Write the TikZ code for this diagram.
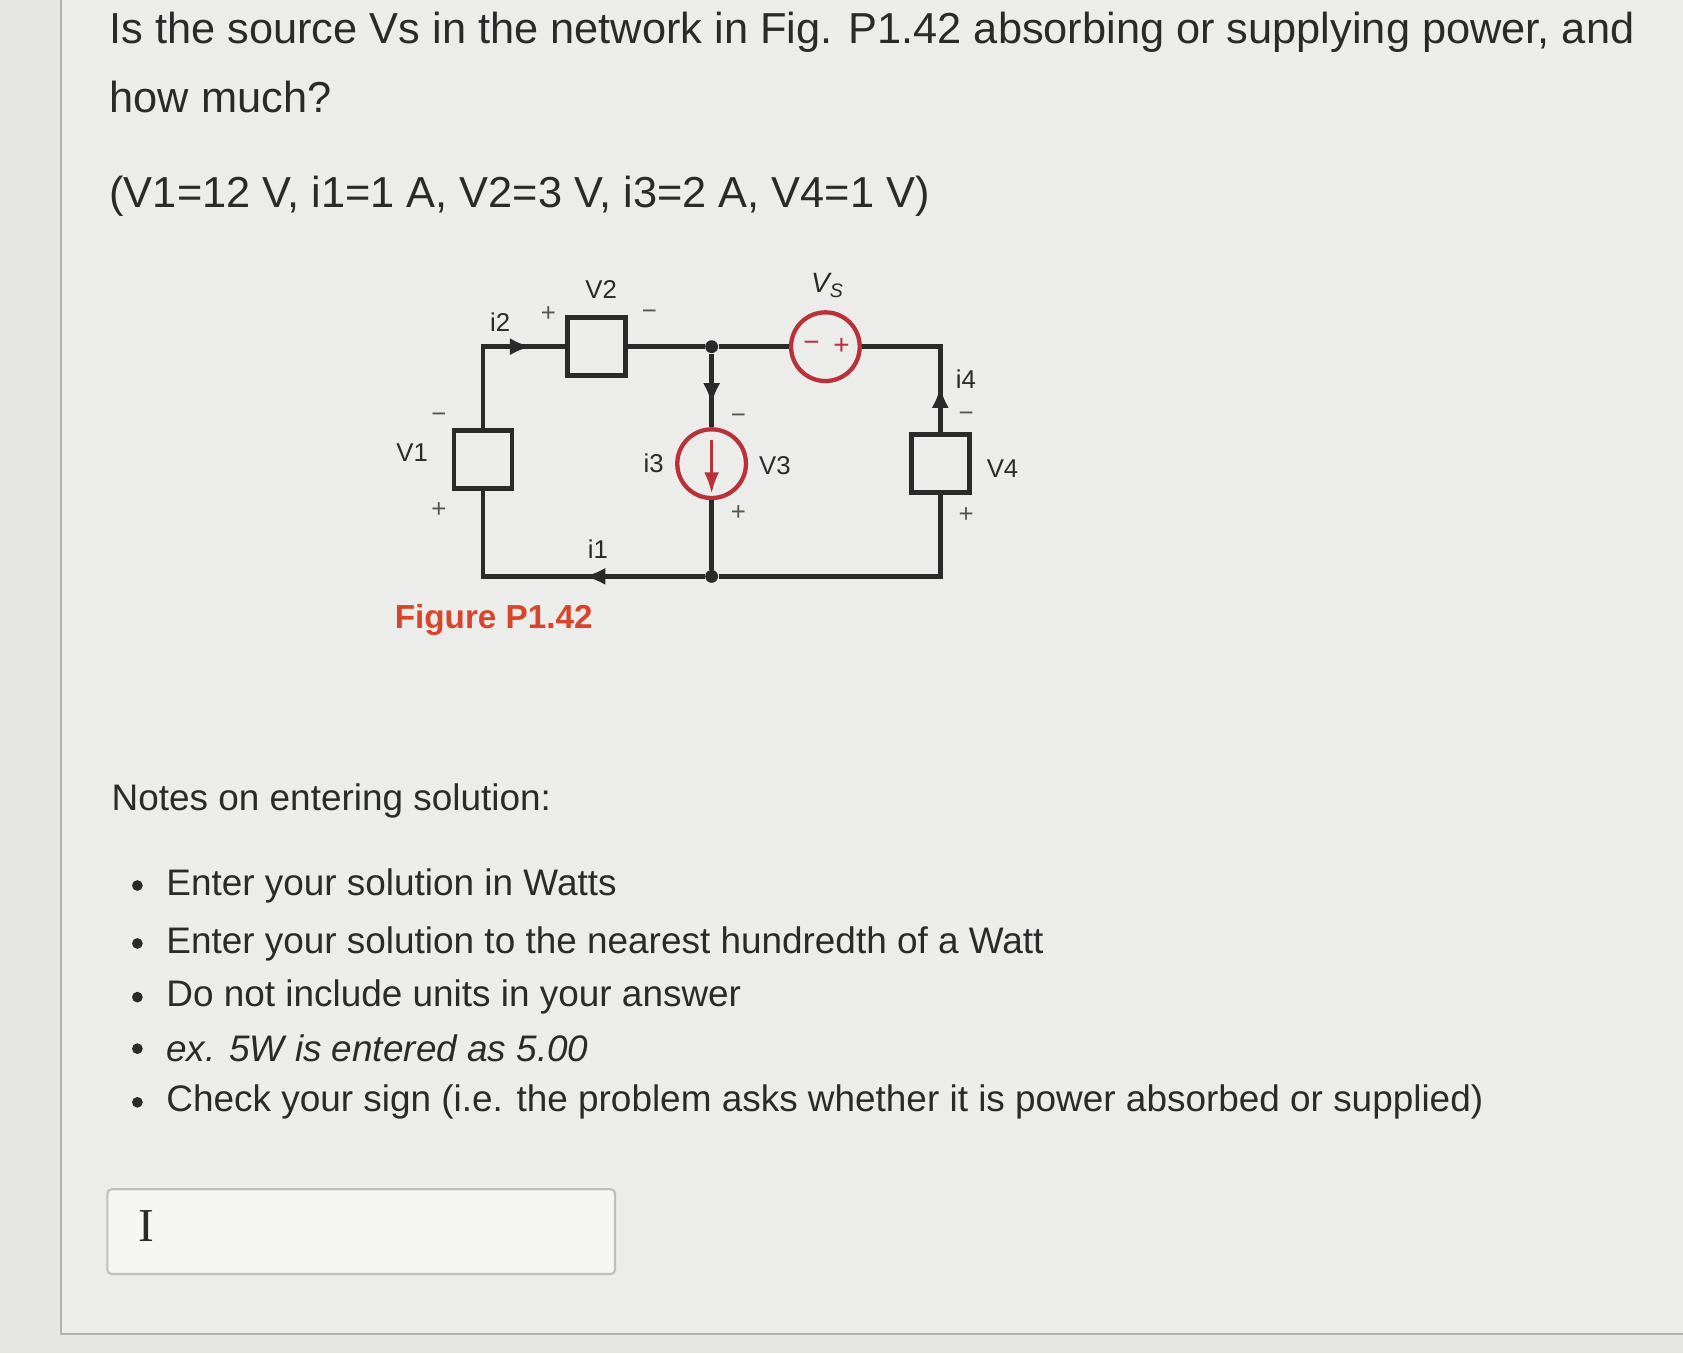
\documentclass[tikz,border=0pt]{standalone}
\usepackage{fontspec}
\setmainfont{Liberation Sans}
\newfontfamily\curfont{Liberation Serif}
\usetikzlibrary{arrows.meta,decorations.markings}
\definecolor{bg}{HTML}{E6E6E4}
\definecolor{inner}{HTML}{ECECEA}
\definecolor{ink}{HTML}{2A2A2A}
\definecolor{srcred}{HTML}{B8323A}
\definecolor{figred}{HTML}{D9452B}
\tikzset{
 wire/.style={line width=2.2pt,ink},
 elbox/.style={draw=ink,line width=2.2pt,fill=inner,minimum width=27pt,minimum height=27pt,inner sep=0pt},
 src/.style={circle,draw=srcred,line width=2pt,fill=inner,minimum size=32pt,inner sep=0pt},
 lab/.style={font=\fontsize{12}{14}\selectfont,text=ink},
 sgn/.style={font=\fontsize{12}{14}\selectfont,text=ink!80},
 big/.style={font=\fontsize{20.2}{24}\selectfont,text=ink,anchor=west},
 note/.style={font=\fontsize{17.2}{20}\selectfont,text=ink,anchor=west},
 dot/.style={circle,fill=ink,inner sep=0pt,minimum size=6pt},
 arr/.style={-{Latex[length=10pt,width=8pt]},line width=2.2pt,ink},
}
\begin{document}
\begin{tikzpicture}[x=0.5pt,y=-0.5pt]
\useasboundingbox (0,0) rectangle (1568,1261);
\fill[bg] (0,0) rectangle (1568,1261);
\fill[inner] (57,0) rectangle (1568,1243);
\draw[gray!60,line width=1pt] (57,0) -- (57,1243) -- (1568,1243);
% text
\node[big] (t1) at (95,30) {Is the source Vs in the network in Fig. P1.42 absorbing or supplying power, and};
\node[big] (t2) at (95,90) {how much?};
\node[big] (t3) at (95,183) {(V1=12 V, i1=1 A, V2=3 V, i3=2 A, V4=1 V)};
\node[note] (n0) at (97,746) {Notes on entering solution:};
\foreach \y/\t in {825/Enter your solution in Watts,879/Enter your solution to the nearest hundredth of a Watt,929/Do not include units in your answer,977/\textit{ex. 5W is entered as 5.00},1027/Check your sign (i.e. the problem asks whether it is power absorbed or supplied)}{
 \node[note] at (148,\y) {\t};
 \fill[ink] (128,\y) circle (5);
}
\node[draw=gray!50,line width=1pt,rounded corners=2pt,fill=white!50!inner,minimum width=236.5pt,minimum height=39.5pt,inner sep=0pt] (ans) at (336.5,1147.5) {};
\node[font=\fontsize{22}{24}\selectfont\curfont,text=ink] (cur) at (136,1142) {I};
% circuit
\coordinate (tl) at (450,323); \coordinate (tr) at (876,323);
\coordinate (bl) at (450,537); \coordinate (br) at (876,537);
\node[dot] (jt) at (663,323) {}; \node[dot] (jb) at (663,537) {};
\node[elbox] (v2) at (556,323) {};
\node[elbox] (v1) at (450,428) {};
\node[elbox] (v4) at (876,432) {};
\node[src] (vs) at (769,323) {};
\node[src] (i3s) at (663,432) {};
\draw[wire] (v1.north) -- (tl) -- (v2.west);
\draw[wire] (v2.east) -- (jt) -- (vs.west);
\draw[wire] (vs.east) -- (tr) -- (v4.north);
\draw[wire] (v4.south) -- (br) -- (jb) -- (bl) -- (v1.south);
\draw[wire] (jt) -- (i3s.north); \draw[wire] (i3s.south) -- (jb);
\draw[arr] (tl) -- (495,323);
\draw[arr] (jt) -- (663,377);
\draw[arr] (876,405) -- (876,360);
\draw[arr] (jb) -- (544,537);
\draw[-{Latex[length=10pt,width=7pt]},line width=1.6pt,srcred] (663,410) -- (663,460);
\node[text=srcred,font=\fontsize{13}{14}\selectfont] (vsm) at (756,323) {\textminus};
\node[text=srcred,font=\fontsize{13}{14}\selectfont] (vsp) at (784,323) {+};
\node[lab] (lv2) at (560,270) {V2};
\node[sgn] (p2) at (511,293) {+}; \node[sgn] (m2) at (605,293) {\textminus};
\node[lab] (li2) at (466,300) {i2};
\node[lab,font=\fontsize{13}{14}\selectfont\itshape] (lvs) at (771,266) {V\textsubscript{S}};
\node[lab] (li4) at (900,353) {i4};
\node[sgn] (m4) at (900,388) {\textminus}; \node[sgn] (p4) at (900,480) {+};
\node[lab] (lv4) at (934,437) {V4};
\node[lab] (lv1) at (384,422) {V1};
\node[sgn] (m1) at (409,389) {\textminus}; \node[sgn] (p1) at (409,475) {+};
\node[lab] (li3) at (609,432) {i3};
\node[sgn] (m3) at (688,390) {\textminus}; \node[sgn] (p3) at (688,478) {+};
\node[lab] (lv3) at (722,434) {V3};
\node[lab] (li1) at (557,512) {i1};
\node[font=\bfseries\fontsize{15.5}{17}\selectfont,text=figred] (fig) at (460,578) {Figure P1.42};
\end{tikzpicture}
\end{document}
